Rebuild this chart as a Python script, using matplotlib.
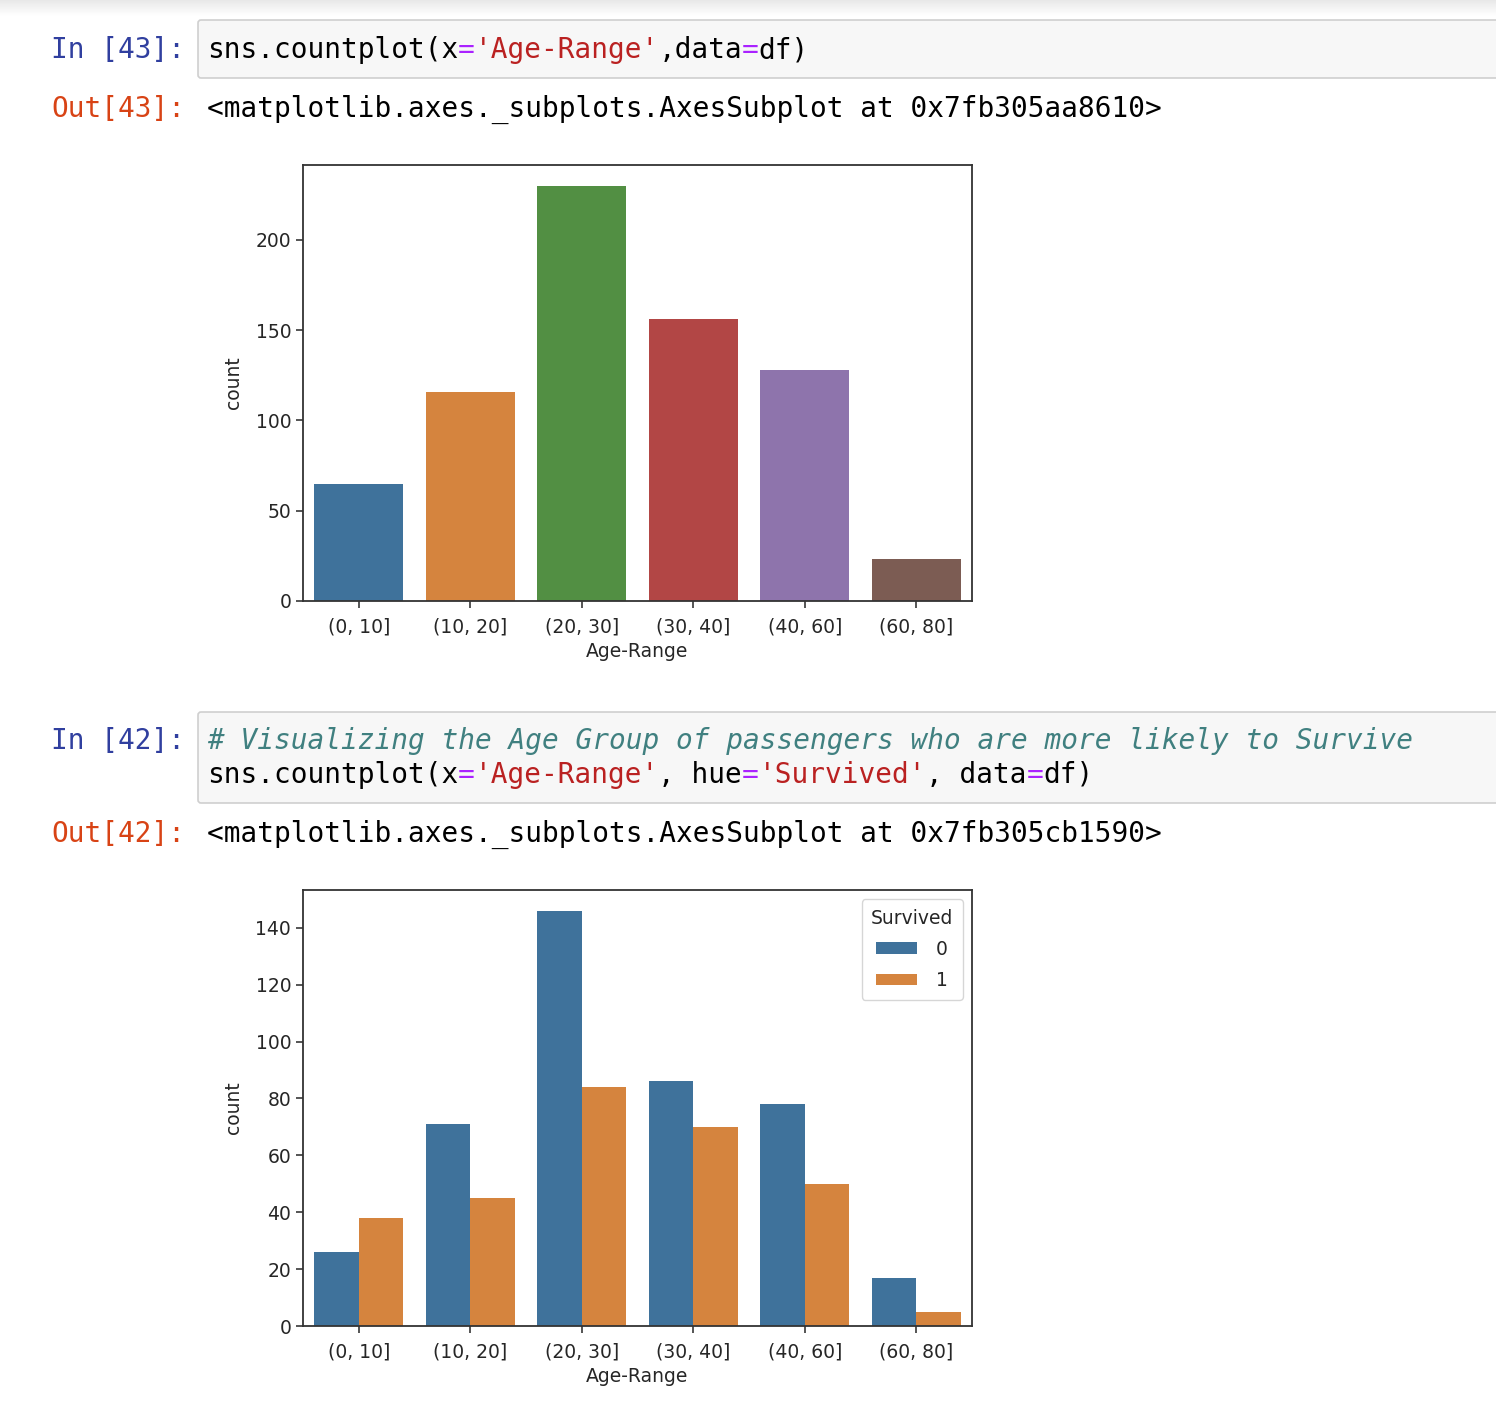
import matplotlib as mpl
mpl.use("Agg")
import matplotlib.pyplot as plt
from matplotlib.patches import FancyBboxPatch
from matplotlib.ticker import MultipleLocator
import numpy as np

# data
age_ranges = ['(0, 10]', '(10, 20]', '(20, 30]', '(30, 40]', '(40, 60]', '(60, 80]']
age_counts = [65, 116, 230, 156, 128, 23]
died = [26, 71, 146, 86, 78, 17]
survived = [38, 45, 84, 70, 50, 5]
hue_labels = ['0', '1']

palette = ['#3f729b', '#d5843e', '#528f43', '#b24645', '#8e74ac', '#7c5c53']

W, H = 1496, 1412
fig = plt.figure(figsize=(W / 100, H / 100), dpi=100)

# background axes in pixel units for the notebook chrome
bg = fig.add_axes([0, 0, 1, 1])
bg.set_xlim(0, W)
bg.set_ylim(H, 0)
bg.axis("off")
grad = np.linspace(0.91, 1.0, 50).reshape(-1, 1)
bg.imshow(grad, cmap="gray", vmin=0, vmax=1, extent=[0, W, 16, 0], aspect="auto")

FS = 20
CW = 0.602 * FS * 100 / 72  # monospace char width, px
mono = "DejaVu Sans Mono"
IN_C, OUT_C = '#303f9f', '#d84315'
EQ, STR, COM = '#aa22ff', '#ba2121', '#408080'


def code_line(x, y, segs):
    n = 0
    for txt, col, style in segs:
        bg.text(x + n * CW, y, txt, color=col, family=mono, fontsize=FS,
                style=style, va='center', ha='left')
        n += len(txt)


def cell_box(y0, y1):
    bg.add_patch(FancyBboxPatch((198, y0), W + 20 - 198, y1 - y0,
                                boxstyle="round,pad=0,rounding_size=3",
                                fc='#f7f7f7', ec='#cfcfcf', lw=1.2))


# cell 43
cell_box(20, 78)
bg.text(185, 50, "In [43]:", color=IN_C, family=mono, fontsize=FS, ha='right', va='center')
code_line(207, 50, [("sns.countplot(x", 'black', 'normal'), ("=", EQ, 'normal'),
                    ("'Age-Range'", STR, 'normal'), (",data", 'black', 'normal'),
                    ("=", EQ, 'normal'), ("df)", 'black', 'normal')])
bg.text(185, 109, "Out[43]:", color=OUT_C, family=mono, fontsize=FS, ha='right', va='center')
code_line(207, 109, [("<matplotlib.axes._subplots.AxesSubplot at 0x7fb305aa8610>", 'black', 'normal')])

# cell 42
cell_box(712, 803)
bg.text(185, 741, "In [42]:", color=IN_C, family=mono, fontsize=FS, ha='right', va='center')
code_line(207, 741, [("# Visualizing the Age Group of passengers who are more likely to Survive", COM, 'italic')])
code_line(207, 775, [("sns.countplot(x", 'black', 'normal'), ("=", EQ, 'normal'),
                     ("'Age-Range'", STR, 'normal'), (", hue", 'black', 'normal'),
                     ("=", EQ, 'normal'), ("'Survived'", STR, 'normal'),
                     (", data", 'black', 'normal'), ("=", EQ, 'normal'), ("df)", 'black', 'normal')])
bg.text(185, 834, "Out[42]:", color=OUT_C, family=mono, fontsize=FS, ha='right', va='center')
code_line(207, 834, [("<matplotlib.axes._subplots.AxesSubplot at 0x7fb305cb1590>", 'black', 'normal')])

TXT = '#262626'
TFS = 13.5


def style_ax(ax):
    for s in ax.spines.values():
        s.set_color('#333333')
        s.set_linewidth(1.3)
    ax.tick_params(colors=TXT, labelsize=TFS, length=5, width=1.1)
    ax.tick_params(axis='x', pad=7)
    ax.set_xlim(-0.5, 5.5)
    ax.set_xticks(range(len(age_ranges)))
    ax.set_xticklabels(age_ranges)
    ax.set_xlabel("Age-Range", fontsize=TFS, color=TXT, labelpad=4)
    ax.set_ylabel("count", fontsize=TFS, color=TXT, labelpad=9)


x = np.arange(len(age_ranges))

ax1 = fig.add_axes([303 / W, 1 - 601 / H, 669 / W, 436 / H])
ax1.bar(x, age_counts, width=0.8, color=palette)
ax1.set_ylim(0, max(age_counts) * 1.05)
ax1.yaxis.set_major_locator(MultipleLocator(50))
style_ax(ax1)

ax2 = fig.add_axes([303 / W, 1 - 1326 / H, 669 / W, 436 / H])
ax2.bar(x - 0.2, died, width=0.4, color=palette[0], label=hue_labels[0])
ax2.bar(x + 0.2, survived, width=0.4, color=palette[1], label=hue_labels[1])
ax2.set_ylim(0, max(died) * 1.05)
ax2.yaxis.set_major_locator(MultipleLocator(20))
style_ax(ax2)
leg = ax2.legend(title="Survived", loc="upper right", fontsize=TFS, title_fontsize=TFS,
                 handlelength=2.2, handleheight=0.6, handletextpad=1.0,
                 borderpad=0.5, labelspacing=0.65)
for t in leg.get_texts():
    t.set_color(TXT)
leg.get_title().set_color(TXT)

fig.savefig("out.png", dpi=100, facecolor='white')
